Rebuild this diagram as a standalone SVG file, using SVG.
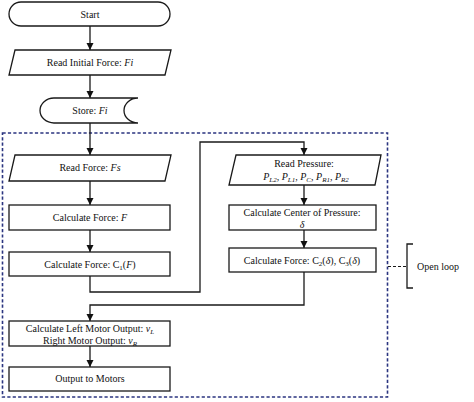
<svg xmlns="http://www.w3.org/2000/svg" width="474" height="402" viewBox="0 0 474 402">
<defs>
<style>
.s{fill:#fff;stroke:#1a1a1a;stroke-width:1.3}
text{font-family:'Liberation Serif','DejaVu Serif','Times New Roman',serif;font-size:10px;fill:#111;text-anchor:middle}
.i{font-style:italic}
.c{fill:none;stroke:#1a1a1a;stroke-width:1.3}
.d{fill:none;stroke:#2b3580;stroke-width:1.6;stroke-dasharray:3.2 2.2}
</style>
<marker id="a" viewBox="0 0 10 10" refX="10" refY="5" markerWidth="7" markerHeight="8" markerUnits="userSpaceOnUse" orient="auto">
<path d="M0,0 L10,5 L0,10 Z" fill="#111"/>
</marker>
</defs>
<rect width="474" height="402" fill="#fff"/>
<rect id="loopbox" class="d" x="2.5" y="133" width="385" height="264"/>
<g id="connectors">
<line class="c" x1="90" y1="26" x2="90" y2="50" marker-end="url(#a)"/>
<line class="c" x1="90" y1="75" x2="90" y2="98" marker-end="url(#a)"/>
<line class="c" x1="90" y1="123" x2="90" y2="155" marker-end="url(#a)"/>
<line class="c" x1="90" y1="181" x2="90" y2="205" marker-end="url(#a)"/>
<line class="c" x1="90" y1="230" x2="90" y2="252" marker-end="url(#a)"/>
<polyline class="c" points="90,276 90,292 200,292 200,142 304,142 304,155" marker-end="url(#a)"/>
<line class="c" x1="304" y1="185" x2="304" y2="205" marker-end="url(#a)"/>
<line class="c" x1="304" y1="230" x2="304" y2="248" marker-end="url(#a)"/>
<polyline class="c" points="304,272 304,305 90,305 90,321" marker-end="url(#a)"/>
<line class="c" x1="90" y1="346" x2="90" y2="367" marker-end="url(#a)"/>
<line x1="388" y1="266.5" x2="406" y2="266.5" stroke="#1a1a1a" stroke-width="1" stroke-dasharray="3 2"/>
</g>
<g id="start">
<rect class="s" x="9" y="2" width="161" height="24" rx="12" ry="12"/>
<text font-family="Liberation Serif, serif" x="90" y="18">Start</text>
</g>
<g id="readInitial">
<polygon class="s" points="15,50 171,50 165,75 9,75"/>
<text font-family="Liberation Serif, serif" x="90" y="66">Read Initial Force: <tspan class="i">Fi</tspan></text>
</g>
<g id="store">
<path class="s" d="M54,98 L138,98 A14,12.5 0 0 0 138,123 L54,123 A14,12.5 0 0 1 54,98 Z"/>
<text font-family="Liberation Serif, serif" x="90" y="114">Store: <tspan class="i">Fi</tspan></text>
</g>
<g id="readForce">
<polygon class="s" points="15,155 171,155 165,181 9,181"/>
<text font-family="Liberation Serif, serif" x="90" y="171">Read Force: <tspan class="i">Fs</tspan></text>
</g>
<g id="calcF">
<rect class="s" x="9" y="205" width="161" height="25"/>
<text font-family="Liberation Serif, serif" x="90" y="221">Calculate Force: <tspan class="i">F</tspan></text>
</g>
<g id="calcC1">
<rect class="s" x="9" y="252" width="161" height="24"/>
<text font-family="Liberation Serif, serif" x="90" y="268">Calculate Force: C<tspan font-size="7" dy="2">1</tspan><tspan dy="-2">(</tspan><tspan class="i">F</tspan>)</text>
</g>
<g id="readPressure">
<polygon class="s" points="236,155 381,155 375,185 229,185"/>
<text font-family="Liberation Serif, serif" x="304" y="167">Read Pressure:</text>
<text font-family="Liberation Serif, serif" class="i" x="306" y="180">P<tspan font-size="7" dy="2">L2</tspan><tspan dy="-2">, P</tspan><tspan font-size="7" dy="2">L1</tspan><tspan dy="-2">, P</tspan><tspan font-size="7" dy="2">C</tspan><tspan dy="-2">, P</tspan><tspan font-size="7" dy="2">R1</tspan><tspan dy="-2">, P</tspan><tspan font-size="7" dy="2">R2</tspan></text>
</g>
<g id="centerPressure">
<rect class="s" x="229" y="205" width="147" height="25"/>
<text font-family="Liberation Serif, serif" x="302" y="216">Calculate Center of Pressure:</text>
<text font-family="Liberation Serif, serif" class="i" x="302" y="228">δ</text>
</g>
<g id="calcC2C3">
<rect class="s" x="229" y="248" width="147" height="24"/>
<text font-family="Liberation Serif, serif" x="302" y="264">Calculate Force: C<tspan font-size="7" dy="2">2</tspan><tspan dy="-2">(</tspan><tspan class="i">δ</tspan>), C<tspan font-size="7" dy="2">3</tspan><tspan dy="-2">(</tspan><tspan class="i">δ</tspan>)</text>
</g>
<g id="motorOutput">
<rect class="s" x="9" y="321" width="161" height="25"/>
<text font-family="Liberation Serif, serif" x="90" y="332">Calculate Left Motor Output: <tspan class="i">v</tspan><tspan class="i" font-size="7" dy="2">L</tspan></text>
<text font-family="Liberation Serif, serif" x="90" y="344">Right Motor Output: <tspan class="i">v</tspan><tspan class="i" font-size="7" dy="2">R</tspan></text>
</g>
<g id="outputMotors">
<rect class="s" x="9" y="367" width="161" height="24"/>
<text font-family="Liberation Serif, serif" x="90" y="382">Output to Motors</text>
</g>
<g id="openLoop">
<polyline class="c" points="413,244 407,244 407,288 413,288"/>
<text font-family="Liberation Serif, serif" x="417" y="270" style="text-anchor:start">Open loop</text>
</g>
</svg>
